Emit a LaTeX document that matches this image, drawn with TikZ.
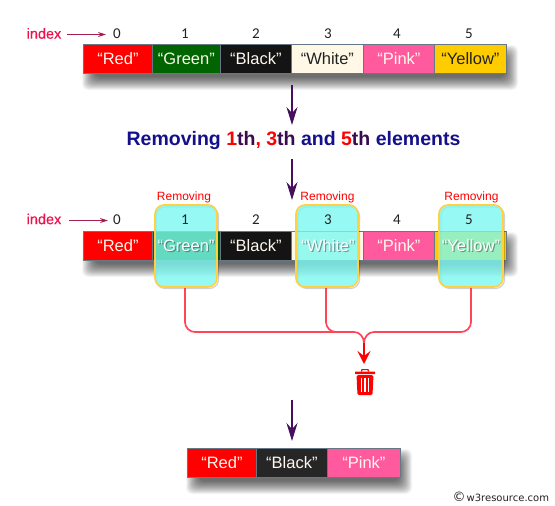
\documentclass[tikz,border=0pt]{standalone}
\usepackage{fontspec}
\setmainfont{Liberation Sans}
\newfontfamily\numfont{Carlito}
\newfontfamily\footfont{DejaVu Sans}
\newfontfamily\idxfont[FakeBold=0.35]{Liberation Sans}
\usetikzlibrary{arrows.meta}
\definecolor{cellborder}{HTML}{667785}
\definecolor{cred}{HTML}{FF0000}
\definecolor{cgreen}{HTML}{006400}
\definecolor{cblack}{HTML}{141414}
\definecolor{cblacktwo}{HTML}{262626}
\definecolor{cwhite}{HTML}{FFF8E7}
\definecolor{cpink}{HTML}{FF5A9E}
\definecolor{cyellow}{HTML}{FFCC00}
\definecolor{txtlight}{HTML}{FFF8EC}
\definecolor{txtdark}{HTML}{222222}
\definecolor{indexred}{HTML}{F0124F}
\definecolor{indexarrow}{HTML}{A3204F}
\definecolor{flowarrow}{HTML}{47105F}
\definecolor{titleblue}{HTML}{14108C}
\definecolor{titlepurple}{HTML}{3A0A50}
\definecolor{hlfill}{RGB}{125,248,240}
\definecolor{hlborder}{HTML}{FFD040}
\definecolor{linkred}{HTML}{FF4558}
\tikzset{
  x=1pt,y=-1pt,
  cellbox/.style={draw=cellborder,line width=0.8pt,inner sep=0pt,anchor=north west,minimum height=29pt,font=\fontsize{16.5}{16}\selectfont,text=txtlight},
  numlabel/.style={font=\numfont\fontsize{15}{15}\selectfont,text=txtdark,inner sep=0pt},
  indexlabel/.style={font=\idxfont\fontsize{14.5}{14}\selectfont,text=indexred,inner sep=0pt},
  indexlink/.style={indexarrow,line width=0.9pt,-{Stealth[length=8pt,width=5pt]}},
  flowlink/.style={flowarrow,line width=1.5pt,-{Stealth[length=18pt,width=11pt,inset=6pt]}},
  removelabel/.style={font=\fontsize{12}{12}\selectfont,text=red,inner sep=0pt},
  hlbox/.style={draw=hlborder,line width=1.6pt,fill=hlfill,fill opacity=0.8,rounded corners=9pt,inner sep=0pt,minimum height=82pt},
  hlhalo/.style={draw=black,draw opacity=0.18,line width=1.2pt,rounded corners=9pt},
  hltext/.style={font=\fontsize{16.5}{16}\selectfont,text=white,inner sep=0pt},
  hlshade/.style={font=\fontsize{16.5}{16}\selectfont,text=black,text opacity=0.35,inner sep=0pt},
  linkline/.style={linkred,line width=1.7pt,rounded corners=10pt},
}
\newcommand{\barshadow}[4]{%
  \foreach \e in {-3,-2.5,...,10}{
    \fill[black,opacity=0.028,rounded corners=6pt] ({#1+8-\e},{#2+11-\e}) rectangle ({#3+2+\e},{#4+7+\e});
  }}
\begin{document}
\begin{tikzpicture}
\path[use as bounding box,fill=white] (0,0) rectangle (555,506);

% first row
\barshadow{84}{44}{506}{73}
\node[cellbox,fill=cred,minimum width=69pt] (a0) at (83,44) {“Red”};
\node[cellbox,fill=cgreen,minimum width=68pt] (a1) at (152,44) {“Green”};
\node[cellbox,fill=cblack,minimum width=71pt] (a2) at (220,44) {“Black”};
\node[cellbox,fill=cwhite,text=txtdark,minimum width=72pt] (a3) at (291,44) {“White”};
\node[cellbox,fill=cpink,minimum width=71pt] (a4) at (363,44) {“Pink”};
\node[cellbox,fill=cyellow,text=txtdark,minimum width=72pt] (a5) at (434,44) {“Yellow”};
\node[numlabel] (an0) at (117,34) {0};
\node[numlabel] (an1) at (185,34) {1};
\node[numlabel] (an2) at (256,34) {2};
\node[numlabel] (an3) at (328,34) {3};
\node[numlabel] (an4) at (397,34) {4};
\node[numlabel] (an5) at (469,34) {5};
\node[indexlabel] (ai) at (44,33.5) {index};
\coordinate (ais) at (67,34.5);
\coordinate (aie) at (106,34.5);
\draw[indexlink] (ais) -- (aie);

% arrows and title
\coordinate (f1s) at (292,85);
\coordinate (f1e) at (292,125);
\draw[flowlink] (f1s) -- (f1e);
\node[inner sep=0pt,font=\bfseries\fontsize{19.5}{19}\selectfont,text=titleblue] (title) at (293.5,141)
  {Removing \textcolor{red}{1}\textcolor{titlepurple}{th}\textcolor{red}{, 3}\textcolor{titlepurple}{th} and \textcolor{red}{5}\textcolor{titlepurple}{th} elements};
\coordinate (f2s) at (292,159);
\coordinate (f2e) at (292,200);
\draw[flowlink] (f2s) -- (f2e);

% second row
\barshadow{84}{231}{506}{260}
\node[cellbox,fill=cred,minimum width=69pt] (b0) at (83,231) {“Red”};
\node[cellbox,fill=cgreen,minimum width=68pt] (b1) at (152,231) {};
\node[cellbox,fill=cblack,minimum width=71pt] (b2) at (220,231) {“Black”};
\node[cellbox,fill=cwhite,minimum width=72pt] (b3) at (291,231) {};
\node[cellbox,fill=cpink,minimum width=71pt] (b4) at (363,231) {“Pink”};
\node[cellbox,fill=cyellow,minimum width=72pt] (b5) at (434,231) {};
\node[numlabel] (bn0) at (117,220) {0};
\node[numlabel] (bn2) at (256,220) {2};
\node[numlabel] (bn4) at (397,220) {4};
\node[indexlabel] (bi) at (44,219) {index};
\coordinate (bis) at (69,220.5);
\coordinate (bie) at (108,220.5);
\draw[indexlink] (bis) -- (bie);

% highlight boxes
\draw[hlhalo] (156,207) rectangle (218.5,288.5);
\draw[hlhalo] (298,207) rectangle (359.5,288.5);
\draw[hlhalo] (441,207) rectangle (504.5,288.5);
\node[hlbox,minimum width=62pt] (h1) at (186,246) {};
\node[hlbox,minimum width=62pt] (h3) at (327,246) {};
\node[hlbox,minimum width=64pt] (h5) at (471,246) {};
\node[numlabel] (bn1) at (185,220) {1};
\node[numlabel] (bn3) at (328,220) {3};
\node[numlabel] (bn5) at (469,220) {5};
\node[hlshade] at (187.2,247) {“Green”};
\node[hlshade] at (329.2,247) {“White”};
\node[hlshade] at (472.2,247) {“Yellow”};
\node[hltext] (t1) at (186,246) {“Green”};
\node[hltext] (t3) at (328,246) {“White”};
\node[hltext] (t5) at (471,246) {“Yellow”};
\node[removelabel] (r1) at (184,197) {Removing};
\node[removelabel] (r3) at (327.5,197) {Removing};
\node[removelabel] (r5) at (471.5,197) {Removing};

% connector to bin
\coordinate (ml) at (354,332);
\coordinate (mr) at (374,332);
\coordinate (jn) at (364,343);
\coordinate (binTop) at (364,364);
\coordinate (h1d) at (185,288);
\coordinate (h3d) at (326,288);
\draw[linkline] (h1d) |- (ml);
\draw[linkline] (h3d) |- (ml);
\draw[linkline] (h5.south) |- (mr);
\draw[linkred,line width=1.7pt] (ml) to[out=0,in=90] (jn);
\draw[linkred,line width=1.7pt] (mr) to[out=180,in=90] (jn);
\draw[red,line width=1.7pt,-{Stealth[length=13pt,width=13pt,inset=5pt]}] (jn) -- (binTop);

% bin
\begin{scope}
  \fill[red,rounded corners=0.5pt] (355,371.5) rectangle (375,374);
  \draw[red,line width=1.2pt] (361.5,371.5) -- (362,369.6) -- (368,369.6) -- (368.5,371.5);
  \fill[red,rounded corners=1.5pt] (356.5,375) -- (373.5,375) -- (372.5,395) -- (357.5,395) -- cycle;
  \fill[white] (360.6,378) rectangle (362.2,392);
  \fill[white] (364.2,378) rectangle (365.8,392);
  \fill[white] (367.8,378) rectangle (369.4,392);
\end{scope}

% third arrow and bottom row
\coordinate (f3s) at (292,400);
\coordinate (f3e) at (292,441);
\draw[flowlink] (f3s) -- (f3e);
\barshadow{188}{448}{400}{477}
\node[cellbox,fill=cred,minimum width=69pt] (c0) at (187,448) {“Red”};
\node[cellbox,fill=cblacktwo,minimum width=71pt] (c1) at (256,448) {“Black”};
\node[cellbox,fill=cpink,minimum width=73pt] (c2) at (327,448) {“Pink”};

% footer
\node[inner sep=0pt,anchor=west,font=\footfont\fontsize{10}{11}\selectfont,text=txtdark] (foot) at (452.5,497)
  {{\fontsize{13}{13}\selectfont ©}\hspace{1pt}w3resource.com};
\end{tikzpicture}
\end{document}
